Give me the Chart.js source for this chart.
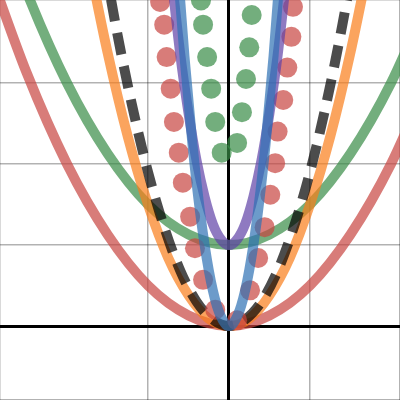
<!DOCTYPE html>
<html><head><script src="https://cdn.jsdelivr.net/npm/chart.js@4"></script>
<style>body{margin:0;background:#fff}</style></head>
<body><canvas id="c" width="400" height="400"></canvas>
<script>
const redSolidX=[-3,-2.5,-2,-1.5,-1,-0.5,0,0.5,1,1.5,2,2.5];
const redSolidY=[4.5,3.13,2,1.13,0.5,0.13,0,0.13,0.5,1.13,2,3.13];
const greenSolidY=[5.5,4.13,3,2.13,1.5,1.13,1,1.13,1.5,2.13,3,4.13];
const orangeX=[-1.75,-1.5,-1.25,-1,-0.75,-0.5,-0.25,0,0.25,0.5,0.75,1,1.25,1.5,1.75];
const orangeY=[4.59,3.38,2.34,1.5,0.84,0.38,0.09,0,0.09,0.38,0.84,1.5,2.34,3.38,4.59];
const blackX=[-1.6,-1.4,-1.2,-1,-0.8,-0.6,-0.4,-0.2,0,0.2,0.4,0.6,0.8,1,1.2,1.4,1.6];
const blackY=[4.86,3.72,2.74,1.9,1.22,0.68,0.30,0.08,0,0.08,0.30,0.68,1.22,1.9,2.74,3.72,4.86];
const purpleX=[-0.8,-0.6,-0.5,-0.4,-0.3,-0.2,-0.1,0,0.1,0.2,0.3,0.4,0.5,0.6,0.8];
const purpleY=[5.16,3.34,2.63,2.04,1.59,1.26,1.07,1,1.07,1.26,1.59,2.04,2.63,3.34,5.16];
const blueX=[-0.65,-0.55,-0.45,-0.35,-0.25,-0.15,-0.05,0,0.05,0.15,0.25,0.35,0.45,0.55,0.65];
const blueY=[4.65,3.33,2.23,1.35,0.69,0.25,0.03,0,0.03,0.25,0.69,1.35,2.23,3.33,4.65];
const redDotX=[-0.85,-0.80,-0.77,-0.72,-0.68,-0.62,-0.57,-0.48,-0.42,-0.32,-0.17,0.10,0.26,0.36,0.44,0.51,0.57,0.60,0.67,0.72,0.77,0.79];
const redDotY=[4.0,3.72,3.32,2.93,2.52,2.14,1.77,1.35,0.96,0.57,0.20,0.07,0.44,0.84,1.22,1.62,2.01,2.40,2.79,3.19,3.57,3.94];
const greenDotX=[-0.346,-0.32,-0.27,-0.22,-0.17,-0.09,0.10,0.16,0.21,0.25,0.28];
const greenDotY=[4.02,3.72,3.32,2.93,2.52,2.14,2.26,2.64,3.05,3.44,3.84];
const pts=(xs,ys)=>xs.map((x,i)=>({x,y:ys[i]}));
const line=(data,color,order,extra)=>Object.assign({data,borderColor:color,borderWidth:10,pointRadius:0,showLine:true,fill:false,cubicInterpolationMode:'monotone',order,borderCapStyle:'round'},extra||{});
const dots=(data,color,order)=>({data,showLine:false,pointRadius:10,pointBorderWidth:0,backgroundColor:color,borderColor:color,order});
const gridCfg={drawTicks:false,color:c=>c.tick&&c.tick.value===0?'#000':'rgba(0,0,0,0.3)',lineWidth:c=>c.tick&&c.tick.value===0?3:1.5};
new Chart(document.getElementById('c'),{type:'scatter',
data:{datasets:[
line(pts(redSolidX,redSolidY),'rgba(199,68,64,0.7)',8),
line(pts(redSolidX,greenSolidY),'rgba(56,140,70,0.7)',7),
line(pts(orangeX,orangeY),'rgba(250,126,25,0.7)',6),
line(pts(blackX,blackY),'rgba(0,0,0,0.7)',5,{borderDash:[22,12],borderCapStyle:'butt'}),
dots(pts(redDotX,redDotY),'rgba(199,68,64,0.7)',4),
dots(pts(greenDotX,greenDotY),'rgba(56,140,70,0.7)',3),
line(pts(purpleX,purpleY),'rgba(96,66,166,0.7)',2),
line(pts(blueX,blueY),'rgba(45,112,179,0.7)',1)
]},
options:{responsive:false,animation:false,devicePixelRatio:1,layout:{padding:0,autoPadding:false},
plugins:{legend:{display:false},tooltip:{enabled:false}},
scales:{
x:{type:'linear',min:-229/81,max:171/81,ticks:{display:false,stepSize:1},border:{display:false},grid:gridCfg},
y:{type:'linear',min:-74/81,max:326/81,ticks:{display:false,stepSize:1},border:{display:false},grid:gridCfg}
}}});
</script></body></html>
